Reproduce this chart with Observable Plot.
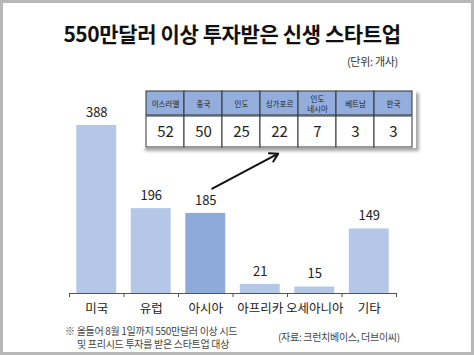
<!DOCTYPE html>
<html><head><meta charset="utf-8">
<script src="https://cdn.jsdelivr.net/npm/d3@7"></script>
<script src="https://cdn.jsdelivr.net/npm/@observablehq/plot@0.6"></script>
<style>
body{margin:0;background:#fff;}
#wrap{position:relative;width:474px;height:355px;background:#fff;overflow:hidden;font-family:"Noto Sans CJK KR","Noto Sans",sans-serif;color:#222;}
#frame{position:absolute;left:0;top:0;width:474px;height:355px;box-sizing:border-box;border:3px solid #b7b7b7;pointer-events:none;z-index:10;}
.abs{position:absolute;white-space:nowrap;z-index:5;}
#title{left:0;width:464px;text-align:center;top:23px;font-size:21px;line-height:21px;font-weight:700;letter-spacing:-0.4px;color:#111;}
#unit{right:76px;top:56px;font-size:11px;line-height:11px;color:#333;letter-spacing:-0.3px;}
#chart{position:absolute;left:0;top:70px;z-index:1;}
#table{position:absolute;left:142px;top:90px;z-index:3;box-shadow:3px 3px 3px rgba(0,0,0,0.35);background:#fff;}
#table svg{display:block;}
.note{font-size:10px;line-height:10px;color:#444;letter-spacing:-0.3px;}
#notes{left:65px;top:325px;white-space:pre-line;line-height:12.5px;padding-left:12px;text-indent:-12px;}
</style></head>
<body>
<div id="wrap">
  <div id="frame"></div>
  <div id="title" class="abs"></div>
  <div id="unit" class="abs"></div>
  <div id="chart"></div>
  <div id="table"></div>
  <div id="notes" class="abs note"></div>
  <div id="source" class="abs note" style="left:278px;top:332px;"></div>
</div>
<script>
// ---- data ----
const titleText = "550만달러 이상 투자받은 신생 스타트업";
const unitText = "(단위: 개사)";
const regions = ["미국", "유럽", "아시아", "아프리카", "오세아니아", "기타"];
const regionValues = [388, 196, 185, 21, 15, 149];
const highlighted = "아시아";
const asiaCountries = ["이스라엘", "중국", "인도", "싱가포르", "인도\n네시아", "베트남", "한국"];
const asiaValues = [52, 50, 25, 22, 7, 3, 3];
const noteLines = ["※ 올들어 8월 1일까지 550만달러 이상 시드", "및 프리시드 투자를 받은 스타트업 대상"];
const sourceText = "(자료: 크런치베이스, 더브이씨)";
// arrow annotation (x in category-index units, y in value units)
const arrowAnno = [{x1: 2.62, y1: 242, x2: 3.83, y2: 323}];

document.getElementById("title").textContent = titleText;
document.getElementById("unit").textContent = unitText;
document.getElementById("notes").textContent = noteLines.join("\n");
document.getElementById("source").textContent = sourceText;

const data = regions.map((r, i) => ({region: r, i, value: regionValues[i]}));
const font = '"Noto Sans CJK KR","Noto Sans",sans-serif';

const chart = Plot.plot({
  width: 474, height: 250,
  marginLeft: 69, marginRight: 78, marginTop: 55, marginBottom: 27,
  style: {fontFamily: font, background: "transparent"},
  x: {domain: [0, regions.length], axis: null},
  y: {domain: [0, 388], axis: null},
  marks: [
    Plot.rectY(data, {x1: "i", x2: d => d.i + 1, y1: 0, y2: "value", insetLeft: 7.3, insetRight: 7.3,
      fill: d => d.region === highlighted ? "#8eaadb" : "#b4c7e7"}),
    Plot.text(data, {x: d => d.i + 0.5, y: "value", text: d => String(d.value), dy: -13, fontSize: 13, fill: "#222"}),
    Plot.ruleY([0], {stroke: "#555", strokeWidth: 1.2}),
    Plot.axisX({ticks: d3.range(regions.length + 1), tickSize: 4, tickFormat: () => "", stroke: "#555"}),
    Plot.text(data, {x: d => d.i + 0.5, y: 0, text: "region", dy: 15, fontSize: 12.5, fill: "#222"}),
    Plot.arrow(arrowAnno, {x1: "x1", y1: "y1", x2: "x2", y2: "y2", stroke: "#111", strokeWidth: 2, headLength: 7})
  ]
});
document.getElementById("chart").appendChild(chart);

const tdata = asiaCountries.map((c, i) => ({country: c, value: asiaValues[i]}));
const header = Plot.plot({
  width: 274, height: 26, margin: 1,
  style: {fontFamily: font, background: "transparent"},
  x: {domain: asiaCountries, padding: 0, axis: null},
  marks: [
    Plot.cell(tdata, {x: "country", fill: "#93aedd", stroke: "#333", strokeWidth: 1}),
    Plot.text(tdata, {x: "country", text: "country", fontSize: 7.5, lineHeight: 1.4, fill: "#222", frameAnchor: "middle"})
  ]
});
const values = Plot.plot({
  width: 274, height: 33, margin: 1,
  style: {fontFamily: font, background: "transparent", marginTop: "-1px"},
  x: {domain: asiaCountries, padding: 0, axis: null},
  marks: [
    Plot.cell(tdata, {x: "country", fill: "#fff", stroke: "#333", strokeWidth: 1}),
    Plot.text(tdata, {x: "country", text: d => String(d.value), fontSize: 15, fill: "#222", frameAnchor: "middle"})
  ]
});
const tbl = document.getElementById("table");
tbl.appendChild(header);
tbl.appendChild(values);
</script>
</body></html>
